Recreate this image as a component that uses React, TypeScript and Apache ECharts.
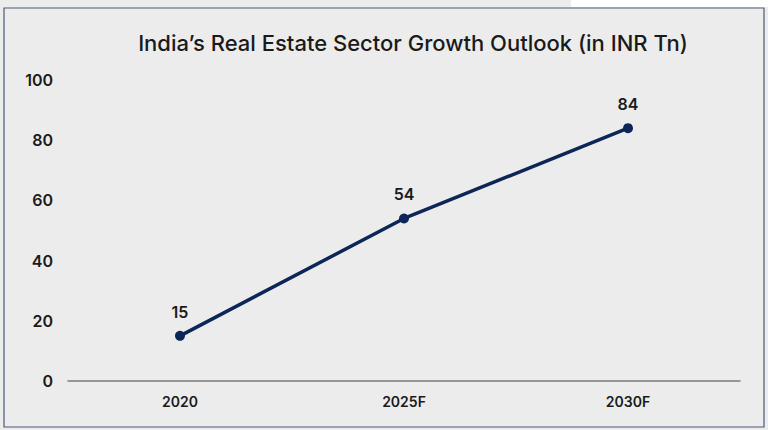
import React, { useEffect, useRef } from "react";
import * as echarts from "echarts";

const categories = ["2020", "2025F", "2030F"];
const values = [15, 54, 84];
const yTicks = [0, 20, 40, 60, 80, 100];
const titleText = "India\u2019s Real Estate Sector Growth Outlook (in INR Tn)";

export default function App() {
  const ref = useRef<HTMLDivElement>(null);
  useEffect(() => {
    if (!ref.current) return;
    const chart = echarts.init(ref.current, undefined, { renderer: "svg" });
    chart.setOption({
      animation: false,
      backgroundColor: "#ececec",
      textStyle: { fontFamily: "Inter" },
      graphic: [
        {
          type: "rect",
          shape: { x: 571, y: 0, width: 197, height: 7 },
          style: { fill: "#ffffff" },
          silent: true,
        },
        {
          type: "rect",
          shape: { x: 4, y: 8, width: 760, height: 419 },
          style: { fill: "none", stroke: "#4a5a7a", lineWidth: 1.2 },
          silent: true,
        },
      ],
      title: {
        text: titleText,
        left: 408,
        textAlign: "center",
        top: 27,
        textStyle: {
          fontFamily: "Inter",
          fontSize: 22,
          fontWeight: 500,
          color: "#1a1a1a",
        },
      },
      grid: { left: 68, right: 28, top: 80, bottom: 49, containLabel: false },
      xAxis: {
        type: "category",
        data: categories,
        boundaryGap: true,
        axisLine: { show: true, lineStyle: { color: "#7a7a7a", width: 1.5 } },
        axisTick: { show: false },
        axisLabel: {
          color: "#1a1a1a",
          fontSize: 14,
          fontWeight: 600,
          fontFamily: "Inter",
          margin: 13,
        },
        splitLine: { show: false },
      },
      yAxis: {
        type: "value",
        min: yTicks[0],
        max: yTicks[yTicks.length - 1],
        interval: 20,
        axisLine: { show: false },
        axisTick: { show: false },
        splitLine: { show: false },
        axisLabel: {
          color: "#1a1a1a",
          fontSize: 16,
          fontWeight: 600,
          fontFamily: "Inter",
          margin: 15,
        },
      },
      series: [
        {
          type: "line",
          data: values,
          symbol: "circle",
          symbolSize: 10,
          lineStyle: { color: "#0c2657", width: 3.5 },
          itemStyle: { color: "#0c2657" },
          label: {
            show: true,
            position: "top",
            distance: 11,
            color: "#1a1a1a",
            fontSize: 16,
            fontWeight: 600,
            fontFamily: "Inter",
          },
        },
      ],
    });
    return () => chart.dispose();
  }, []);
  return (
    <div
      ref={ref}
      style={{ position: "fixed", left: 0, top: 0, width: 768, height: 430 }}
    />
  );
}
